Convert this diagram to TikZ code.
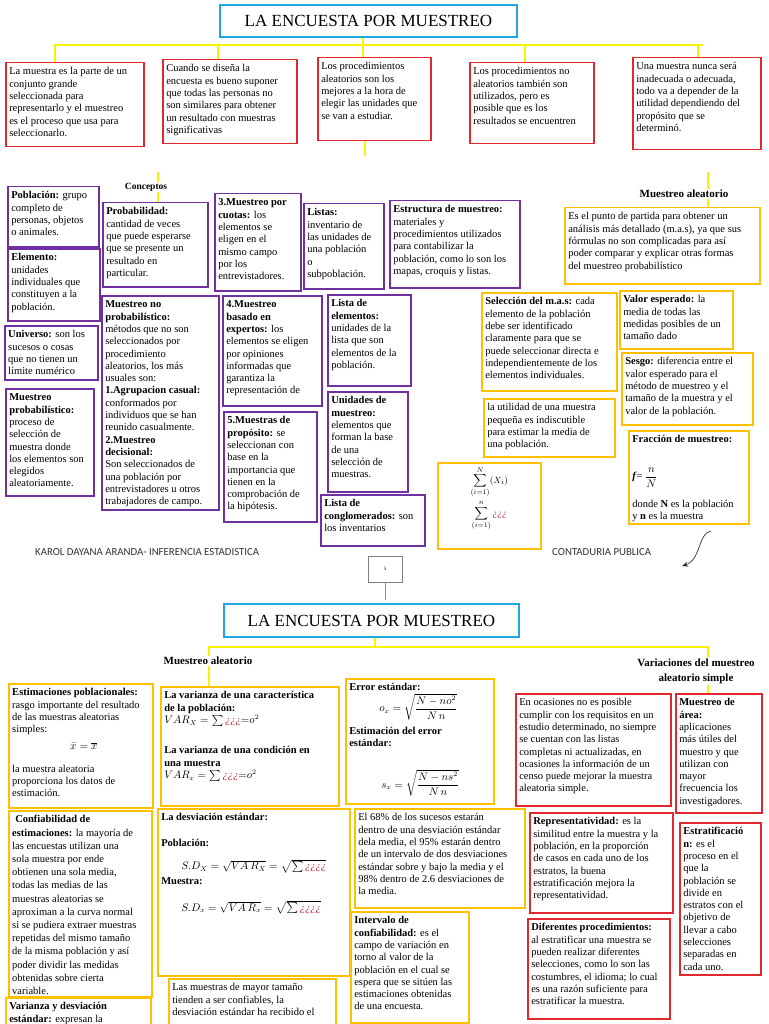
\documentclass[tikz,border=0pt]{standalone}
\usepackage{amsmath}
\usepackage{fontspec}
\setmainfont{Liberation Serif}
\newfontfamily\footfam{Carlito}
\usetikzlibrary{arrows.meta}
\pgfdeclarelayer{bg}
\pgfsetlayers{bg,main}
\definecolor{cred}{HTML}{E0282E}
\definecolor{cpur}{HTML}{7030A0}
\definecolor{cgold}{HTML}{FFC000}
\definecolor{cblue}{HTML}{1EA7E1}
\definecolor{cyel}{HTML}{F8F400}
\definecolor{cqm}{HTML}{B0202A}
\newcommand\bodyfont{\fontsize{10.5}{12.3}\selectfont}
\newcommand\B[1]{\textbf{#1}}
\newcommand\qm[1]{\mbox{\color{cqm}\itshape #1}}
\newcommand\bx[7]{\node[#2, anchor=north west, inner xsep=3.5pt, inner ysep=3.5pt] (#1) at (#3,#4) {\parbox[t][\dimexpr#6pt-7pt\relax][t]{\dimexpr#5pt-7pt\relax}{\bodyfont\raggedright\strut#7}};}
\tikzset{
  redbox/.style={draw=cred, line width=1.5pt, fill=white},
  purbox/.style={draw=cpur, line width=1.5pt, fill=white},
  goldbox/.style={draw=cgold, line width=1.5pt, fill=white},
  titlebox/.style={draw=cblue, line width=2.2pt, fill=white, inner sep=0pt, font=\fontsize{17}{20}\selectfont},
  yline/.style={draw=cyel, line width=2.6pt},
  seclab/.style={inner sep=1pt, font=\fontsize{11}{15}\selectfont\bfseries, align=center},
  smalllab/.style={inner sep=1pt, font=\fontsize{9.5}{11}\selectfont\bfseries},
  foot/.style={inner sep=0pt, anchor=west, text=black!80, font=\footfam\fontsize{10.8}{12}\selectfont},
  pagebox/.style={draw=black!50, line width=0.6pt, minimum width=34pt, minimum height=26pt, inner sep=0pt, font=\fontsize{5}{6}\selectfont},
}
\begin{document}
\begin{tikzpicture}[x=1pt, y=-1pt]
\useasboundingbox (0,0) rectangle (768,1024);
\begin{pgfonlayer}{bg}
\fill[white] (0,0) rectangle (768,1024);
\end{pgfonlayer}

% ---------- top half ----------
\node[titlebox, minimum width=297pt, minimum height=32pt] (t1) at (368.5,21) {LA ENCUESTA POR MUESTREO};

\bx{b1}{redbox}{5}{62}{138}{84}{La muestra es la parte de un\\conjunto grande\\seleccionada para\\representarlo y el muestreo\\es el proceso que usa para\\seleccionarlo.}
\bx{b2}{redbox}{162}{59}{134}{84}{Cuando se diseña la\\encuesta es bueno suponer\\que todas las personas no\\son similares para obtener\\un resultado con muestras\\significativas}
\bx{b3}{redbox}{317}{57}{113}{83}{Los procedimientos\\aleatorios son los\\mejores a la hora de\\elegir las unidades que\\se van a estudiar.}
\bx{b4}{redbox}{469}{62}{124}{81}{Los procedimientos no\\aleatorios también son\\utilizados, pero es\\posible que es los\\resultados se encuentren}
\bx{b5}{redbox}{632}{57}{128}{92}{Una muestra nunca será\\inadecuada o adecuada,\\todo va a depender de la\\utilidad dependiendo del\\propósito que se\\determinó.}

\node[smalllab] (conc) at (146,187) {Conceptos};
\node[seclab] (mal1) at (684,194) {Muestreo aleatorio};

\bx{pob}{purbox}{7}{186}{91}{60}{\B{Población:} grupo\\completo de\\personas, objetos\\o animales.}
\bx{ele}{purbox}{7}{248}{92}{72}{\B{Elemento:}\\unidades\\individuales que\\constituyen a la\\población.}
\bx{uni}{purbox}{4}{325}{93}{54}{\B{Universo:} son los\\sucesos o cosas\\que no tienen un\\límite numérico}
\bx{mprob}{purbox}{5}{388}{88}{107}{\B{Muestreo}\\\B{probabilístico:}\\proceso de\\selección de\\muestra donde\\los elementos son\\elegidos\\aleatoriamente.}
\bx{prob}{purbox}{102}{202}{105}{84}{\B{Probabilidad:}\\cantidad de veces\\que puede esperarse\\que se presente un\\resultado en\\particular.}
\bx{mnop}{purbox}{101}{295}{117}{214}{\B{Muestreo no}\\\B{probabilístico:}\\métodos que no son\\seleccionados por\\procedimiento\\aleatorios, los más\\usuales son:\\\B{1.Agrupacion casual:}\\conformados por\\individuos que se han\\reunido casualmente.\\\B{2.Muestreo}\\\B{decisional:}\\Son seleccionados de\\una población por\\entrevistadores u otros\\trabajadores de campo.}
\bx{cuo}{purbox}{214}{193}{86}{97}{\B{3.Muestreo por}\\\B{cuotas:} los\\elementos se\\eligen en el\\mismo campo\\por los\\entrevistadores.}
\bx{expe}{purbox}{222}{295}{99}{110}{\B{4.Muestreo}\\\B{basado en}\\\B{expertos:} los\\elementos se eligen\\por opiniones\\informadas que\\garantiza la\\representación de}
\bx{prop}{purbox}{223}{411}{93}{110}{\B{5.Muestras de}\\\B{propósito:} se\\seleccionan con\\base en la\\importancia que\\tienen en la\\comprobación de\\la hipótesis.}
\bx{lis}{purbox}{303}{203}{80}{85}{\B{Listas:}\\inventario de\\las unidades de\\una población\\o\\subpoblación.}
\bx{estm}{purbox}{389}{200}{130}{87}{\B{Estructura de muestreo:}\\materiales y\\procedimientos utilizados\\para contabilizar la\\población, como lo son los\\mapas, croquis y listas.}
\bx{lel}{purbox}{327}{294}{83}{91}{\B{Lista de}\\\B{elementos:}\\unidades de la\\lista que son\\elementos de la\\población.}
\bx{umu}{purbox}{327}{391}{80}{100}{\B{Unidades de}\\\B{muestreo:}\\elementos que\\forman la base\\de una\\selección de\\muestras.}
\bx{lcon}{purbox}{320}{494}{104}{51}{\B{Lista de}\\\B{conglomerados:} son\\los inventarios}

\bx{form}{goldbox}{437}{462}{103}{86}{\centering\vspace*{-3pt}{\fontsize{9.5}{10}\selectfont$\displaystyle\sum_{(i=1)}^{N}(X_i)$\\[5pt]$\displaystyle\sum_{(i=1)}^{n}$\,\qm{¿¿¿}}}
\bx{sel}{goldbox}{481}{292}{135}{98}{\B{Selección del m.a.s:} cada\\elemento de la población\\debe ser identificado\\claramente para que se\\puede seleccionar directa e\\independientemente de los\\elementos individuales.}
\bx{util}{goldbox}{483}{398}{131}{58}{la utilidad de una muestra\\pequeña es indiscutible\\para estimar la media de\\una población.}
\bx{punto}{goldbox}{564}{207}{195}{76}{Es el punto de partida para obtener un\\análisis más detallado (m.a.s), ya que sus\\fórmulas no son complicadas para así\\poder comparar y explicar otras formas\\del muestreo probabilístico}
\bx{valor}{goldbox}{619}{290}{113}{58}{\B{Valor esperado:} la\\media de todas las\\medidas posibles de un\\tamaño dado}
\bx{sesgo}{goldbox}{621}{352}{131}{72}{\B{Sesgo:} diferencia entre el\\valor esperado para el\\método de muestreo y el\\tamaño de la muestra y el\\valor de la población.}
\bx{frac}{goldbox}{628}{430}{120}{93}{\B{Fracción de muestreo:}\\[20pt]\B{\textit{f}}= $\dfrac{n}{N}$\\[12pt]donde \B{N} es la población\\y \B{n} es la muestra}

\node[foot] (f1) at (35,552) {KAROL DAYANA ARANDA- INFERENCIA ESTADISTICA};
\node[foot] (f2) at (552,552) {CONTADURIA PUBLICA};
\node[pagebox] (pg) at (385,569) {5};
\coordinate (pgend) at (385,600);
\draw[black!45, line width=0.8pt] (pg.south) -- (pgend);
\coordinate (arA) at (711,531);
\coordinate (arB) at (682,566);
\draw[-{Stealth[length=6pt,width=5pt]}, line width=0.7pt, black!80] (arA) .. controls (698,533) and (701,560) .. (arB);

% ---------- bottom half ----------
\node[titlebox, minimum width=295pt, minimum height=33pt] (t2) at (371.5,620.5) {LA ENCUESTA POR MUESTREO};
\node[seclab] (mal2) at (208,661) {Muestreo aleatorio};
\node[seclab] (var2) at (696,671) {Variaciones del muestreo\\aleatorio simple};

\bx{estim}{goldbox}{8}{683}{144}{124}{\B{Estimaciones poblacionales:}\\rasgo importante del resultado\\de las muestras aleatorias\\simples:\\[4pt]\hspace*{58pt}$\bar{x}=\overline{x}$\\[11pt]la muestra aleatoria\\proporciona los datos de\\estimación.}
\bx{varz}{goldbox}{160}{686}{178}{119}{\B{La varianza de una característica}\\\B{de la población:}\\$VAR_X=\sum\qm{¿¿¿}{=}o^2$\\[18pt]\B{La varianza de una condición en}\\\B{una muestra}\\$VAR_x=\sum\qm{¿¿¿}{=}o^2$}
\bx{err}{goldbox}{345}{678}{148}{125}{\B{Error estándar:}\\[-2pt]\hspace*{30pt}$o_x=\sqrt{\dfrac{N-no^2}{N\,n}}$\\[6pt]\B{Estimación del error}\\\B{estándar:}\\[22pt]\hspace*{32pt}$s_x=\sqrt{\dfrac{N-ns^2}{N\,n}}$}
\bx{enoc}{redbox}{515}{693}{155}{112}{En ocasiones no es posible\\cumplir con los requisitos en un\\estudio determinado, no siempre\\se cuentan con las listas\\completas ni actualizadas, en\\ocasiones la información de un\\censo puede mejorar la muestra\\aleatoria simple.}
\bx{area}{redbox}{675}{693}{86}{119}{\B{Muestreo de}\\\B{área:}\\aplicaciones\\más útiles del\\muestro y que\\utilizan con\\mayor\\frecuencia los\\investigadores.}
\bx{conf}{goldbox}{8}{810}{143}{186}{\fontsize{10.5}{13.2}\selectfont\hspace*{3pt}\B{Confiabilidad de}\\\B{estimaciones:} la mayoría de\\las encuestas utilizan una\\sola muestra por ende\\obtienen una sola media,\\todas las medias de las\\muestras aleatorias se\\aproximan a la curva normal\\si se pudiera extraer muestras\\repetidas del mismo tamaño\\de la misma población y así\\poder dividir las medidas\\obtenidas sobre cierta\\variable.}
\bx{desv}{goldbox}{157}{808}{192}{167}{\B{La desviación estándar:}\\[13pt]\B{Población:}\\[11pt]\hspace*{20pt}$S.D_X=\sqrt{VA\,R_X}=\sqrt{\textstyle\sum\qm{¿¿¿¿}}$\\[3pt]\B{Muestra:}\\[14pt]\hspace*{20pt}$S.D_x=\sqrt{VA\,R_x}=\sqrt{\textstyle\sum\qm{¿¿¿¿}}$}
\bx{pct}{goldbox}{354}{808}{170}{99}{El 68\% de los sucesos estarán\\dentro de una desviación estándar\\dela media, el 95\% estarán dentro\\de un intervalo de dos desviaciones\\estándar sobre y bajo la media y el\\98\% dentro de 2.6 desviaciones de\\la media.}
\bx{intv}{goldbox}{350}{911}{118}{111}{\B{Intervalo de}\\\B{confiabilidad:} es el\\campo de variación en\\torno al valor de la\\población en el cual se\\espera que se sitúen las\\estimaciones obtenidas\\de una encuesta.}
\bx{repr}{redbox}{529}{812}{143}{100}{\B{Representatividad:} es la\\similitud entre la muestra y la\\población, en la proporción\\de casos en cada uno de los\\estratos, la buena\\estratificación mejora la\\representatividad.}
\bx{difp}{redbox}{527}{918}{142}{100}{\B{Diferentes procedimientos:}\\al estratificar una muestra se\\pueden realizar diferentes\\selecciones, como lo son las\\costumbres, el idioma; lo cual\\es una razón suficiente para\\estratificar la muestra.}
\bx{estr}{redbox}{679}{822}{81}{152}{\B{Estratificació}\\\B{n:} es el\\proceso en el\\que la\\población se\\divide en\\estratos con el\\objetivo de\\llevar a cabo\\selecciones\\separadas en\\cada uno.}
\bx{vyd}{goldbox}{5}{997}{145}{40}{\B{Varianza y desviación}\\\B{estándar:} expresan la}
\bx{lmay}{goldbox}{168}{978}{167}{60}{Las muestras de mayor tamaño\\tienden a ser confiables, la\\desviación estándar ha recibido el}

% ---------- yellow connectors ----------
\begin{pgfonlayer}{bg}
\coordinate (h1a) at (55,45);
\coordinate (h1b) at (703,45);
\coordinate (d2) at (218,45);
\coordinate (d3) at (363,45);
\coordinate (d4) at (525,45);
\coordinate (d5) at (698,45);
\draw[yline] (h1a |- b1.north) -- (h1a) -- (h1b);
\draw[yline] (d2) -- (d2 |- b2.north);
\draw[yline] (d3 |- t1.south) -- (d3 |- b3.north);
\draw[yline] (d4) -- (d4 |- b4.north);
\draw[yline] (d5) -- (d5 |- b5.north);
\coordinate (s3) at (365,156);
\draw[yline] (b3.south -| s3) -- (s3);
\coordinate (cc) at (158,172);
\draw[yline] (cc) -- (cc |- conc.north);
\draw[yline] (cc |- conc.south) -- (cc |- prob.north);
\coordinate (ma) at (708,172);
\draw[yline] (ma) -- (ma |- mal1.north);
\draw[yline] (ma |- mal1.south) -- (ma |- punto.north);
\coordinate (h2a) at (209,647);
\coordinate (h2b) at (708,647);
\coordinate (d6) at (375,647);
\draw[yline] (d6 |- t2.south) -- (d6);
\draw[yline] (h2a |- mal2.north) -- (h2a) -- (h2b) -- (h2b |- var2.north);
\draw[yline] (h2a |- mal2.south) -- (h2a |- varz.north);
\draw[yline] (h2b |- var2.south) -- (h2b |- area.north);
\end{pgfonlayer}
\end{tikzpicture}
\end{document}
